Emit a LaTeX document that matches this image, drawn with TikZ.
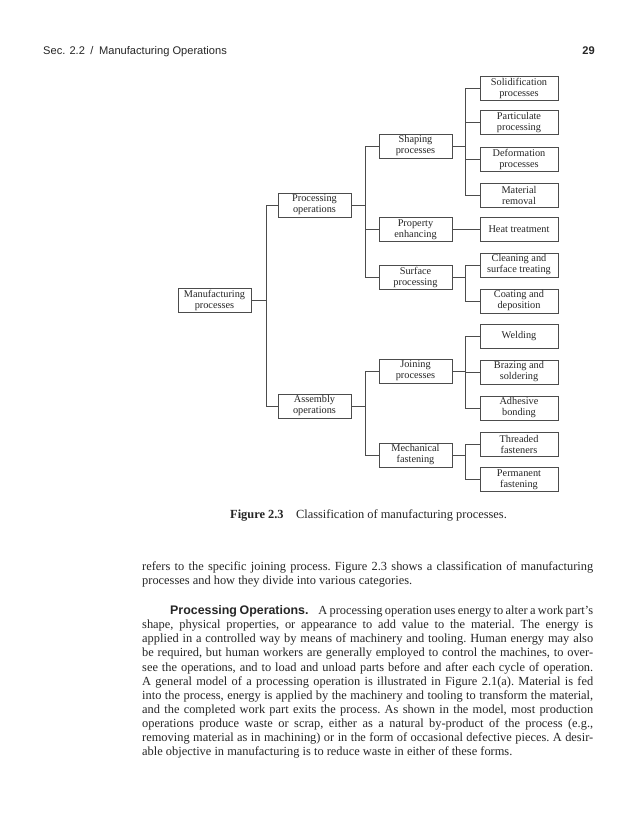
\documentclass[tikz,border=0pt]{standalone}
\usepackage{fontspec}
\setmainfont{Liberation Serif}
\setsansfont{Liberation Sans}
\usepackage{tikz}

\newcommand{\bodyfont}{\fontsize{12.4}{14.1}\selectfont\frenchspacing}

\begin{document}
\begin{tikzpicture}[x=1pt, y=-1pt, every node/.style={text=black!85},
	box/.style={draw=black!70, line width=0.8pt, minimum width=73pt, minimum height=24pt, inner sep=1pt, align=center, font=\fontsize{10.3}{11}\selectfont},
	leaf/.style={box, minimum width=78pt},
	link/.style={draw=black!70, line width=0.8pt},
	txt/.style={inner sep=0pt, font=\bodyfont}]
	\useasboundingbox[fill=white] (0,0) rectangle (638,838);
	\node[txt, anchor=base west, font=\sffamily\fontsize{11.1}{13}\selectfont] (sec) at (43,54) {Sec. 2.2\enspace/\enspace Manufacturing Operations};
	\node[txt, anchor=base east, font=\sffamily\bfseries\fontsize{11.1}{13}\selectfont] (page) at (595,54) {29};
	\node[box] (mfg) at (214.5,300) {Manufacturing\\processes};
	\node[box] (proc) at (314.5,205) {Processing\\operations};
	\node[box] (asm) at (314.5,406) {Assembly\\operations};
	\node[box] (shap) at (415.5,146) {Shaping\\processes};
	\node[box] (prop) at (415.5,229.5) {Property\\enhancing};
	\node[box] (surf) at (415.5,277) {Surface\\processing};
	\node[box] (join) at (415.5,371) {Joining\\processes};
	\node[box] (mech) at (415.5,455) {Mechanical\\fastening};
	\node[leaf] (solid) at (519,88) {Solidification\\processes};
	\node[leaf] (partic) at (519,122.5) {Particulate\\processing};
	\node[leaf] (deform) at (519,159) {Deformation\\processes};
	\node[leaf] (remov) at (519,195) {Material\\removal};
	\node[leaf] (heat) at (519,229.5) {Heat treatment};
	\node[leaf] (clean) at (519,265) {Cleaning and\\surface treating};
	\node[leaf] (coat) at (519,301) {Coating and\\deposition};
	\node[leaf] (weld) at (519,336.5) {Welding};
	\node[leaf] (braz) at (519,372) {Brazing and\\soldering};
	\node[leaf] (adh) at (519,408) {Adhesive\\bonding};
	\node[leaf] (thread) at (519,444) {Threaded\\fasteners};
	\node[leaf] (perm) at (519,479.5) {Permanent\\fastening};
	\coordinate (j0) at (266,0);
	\coordinate (j1) at (365,0);
	\coordinate (j2) at (465,0);
	\draw[link] (mfg.east) -- (mfg.east -| j0);
	\draw[link] (proc.west) -- (proc.west -| j0) |- (asm.west);
	\draw[link] (proc.east) -- (proc.east -| j1);
	\draw[link] (shap.west) -- (shap.west -| j1) |- (surf.west);
	\draw[link] (prop.west) -- (prop.west -| j1);
	\draw[link] (asm.east) -- (asm.east -| j1);
	\draw[link] (join.west) -- (join.west -| j1) |- (mech.west);
	\draw[link] (shap.east) -- (shap.east -| j2);
	\draw[link] (solid.west) -- (solid.west -| j2) |- (remov.west);
	\foreach \n in {partic,deform}
		\draw[link] (\n.west) -- (\n.west -| j2);
	\draw[link] (prop.east) -- (heat.west);
	\draw[link] (surf.east) -- (surf.east -| j2);
	\draw[link] (clean.west) -- (clean.west -| j2) |- (coat.west);
	\draw[link] (join.east) -- (join.east -| j2);
	\draw[link] (weld.west) -- (weld.west -| j2) |- (adh.west);
	\draw[link] (braz.west) -- (braz.west -| j2);
	\draw[link] (mech.east) -- (mech.east -| j2);
	\draw[link] (thread.west) -- (thread.west -| j2) |- (perm.west);
	\node[txt, anchor=base west] (cap) at (230,518.5) {\textbf{Figure 2.3}\quad Classification of manufacturing processes.};
	\node[txt, anchor=north west, text width=451pt, align=justify] (refers) at (142,561.5) {refers to the specific joining process. Figure 2.3 shows a classification of manufacturing\linebreak processes and how they divide into various categories.};
	\node[txt, anchor=north west, text width=451pt, align=justify] (procops) at (142,605.5) {\hspace*{28pt}{\sffamily\bfseries Processing Operations.}\hspace{0.6em} A processing operation uses energy to alter a work part's\linebreak shape, physical properties, or appearance to add value to the material. The energy is\linebreak applied in a controlled way by means of machinery and tooling. Human energy may also\linebreak be required, but human workers are generally employed to control the machines, to over-\linebreak see the operations, and to load and unload parts before and after each cycle of operation.\linebreak A general model of a processing operation is illustrated in Figure 2.1(a). Material is fed\linebreak into the process, energy is applied by the machinery and tooling to transform the material,\linebreak and the completed work part exits the process. As shown in the model, most production\linebreak operations produce waste or scrap, either as a natural by-product of the process (e.g.,\linebreak removing material as in machining) or in the form of occasional defective pieces. A desir-\linebreak able objective in manufacturing is to reduce waste in either of these forms.};
\end{tikzpicture}
\end{document}
